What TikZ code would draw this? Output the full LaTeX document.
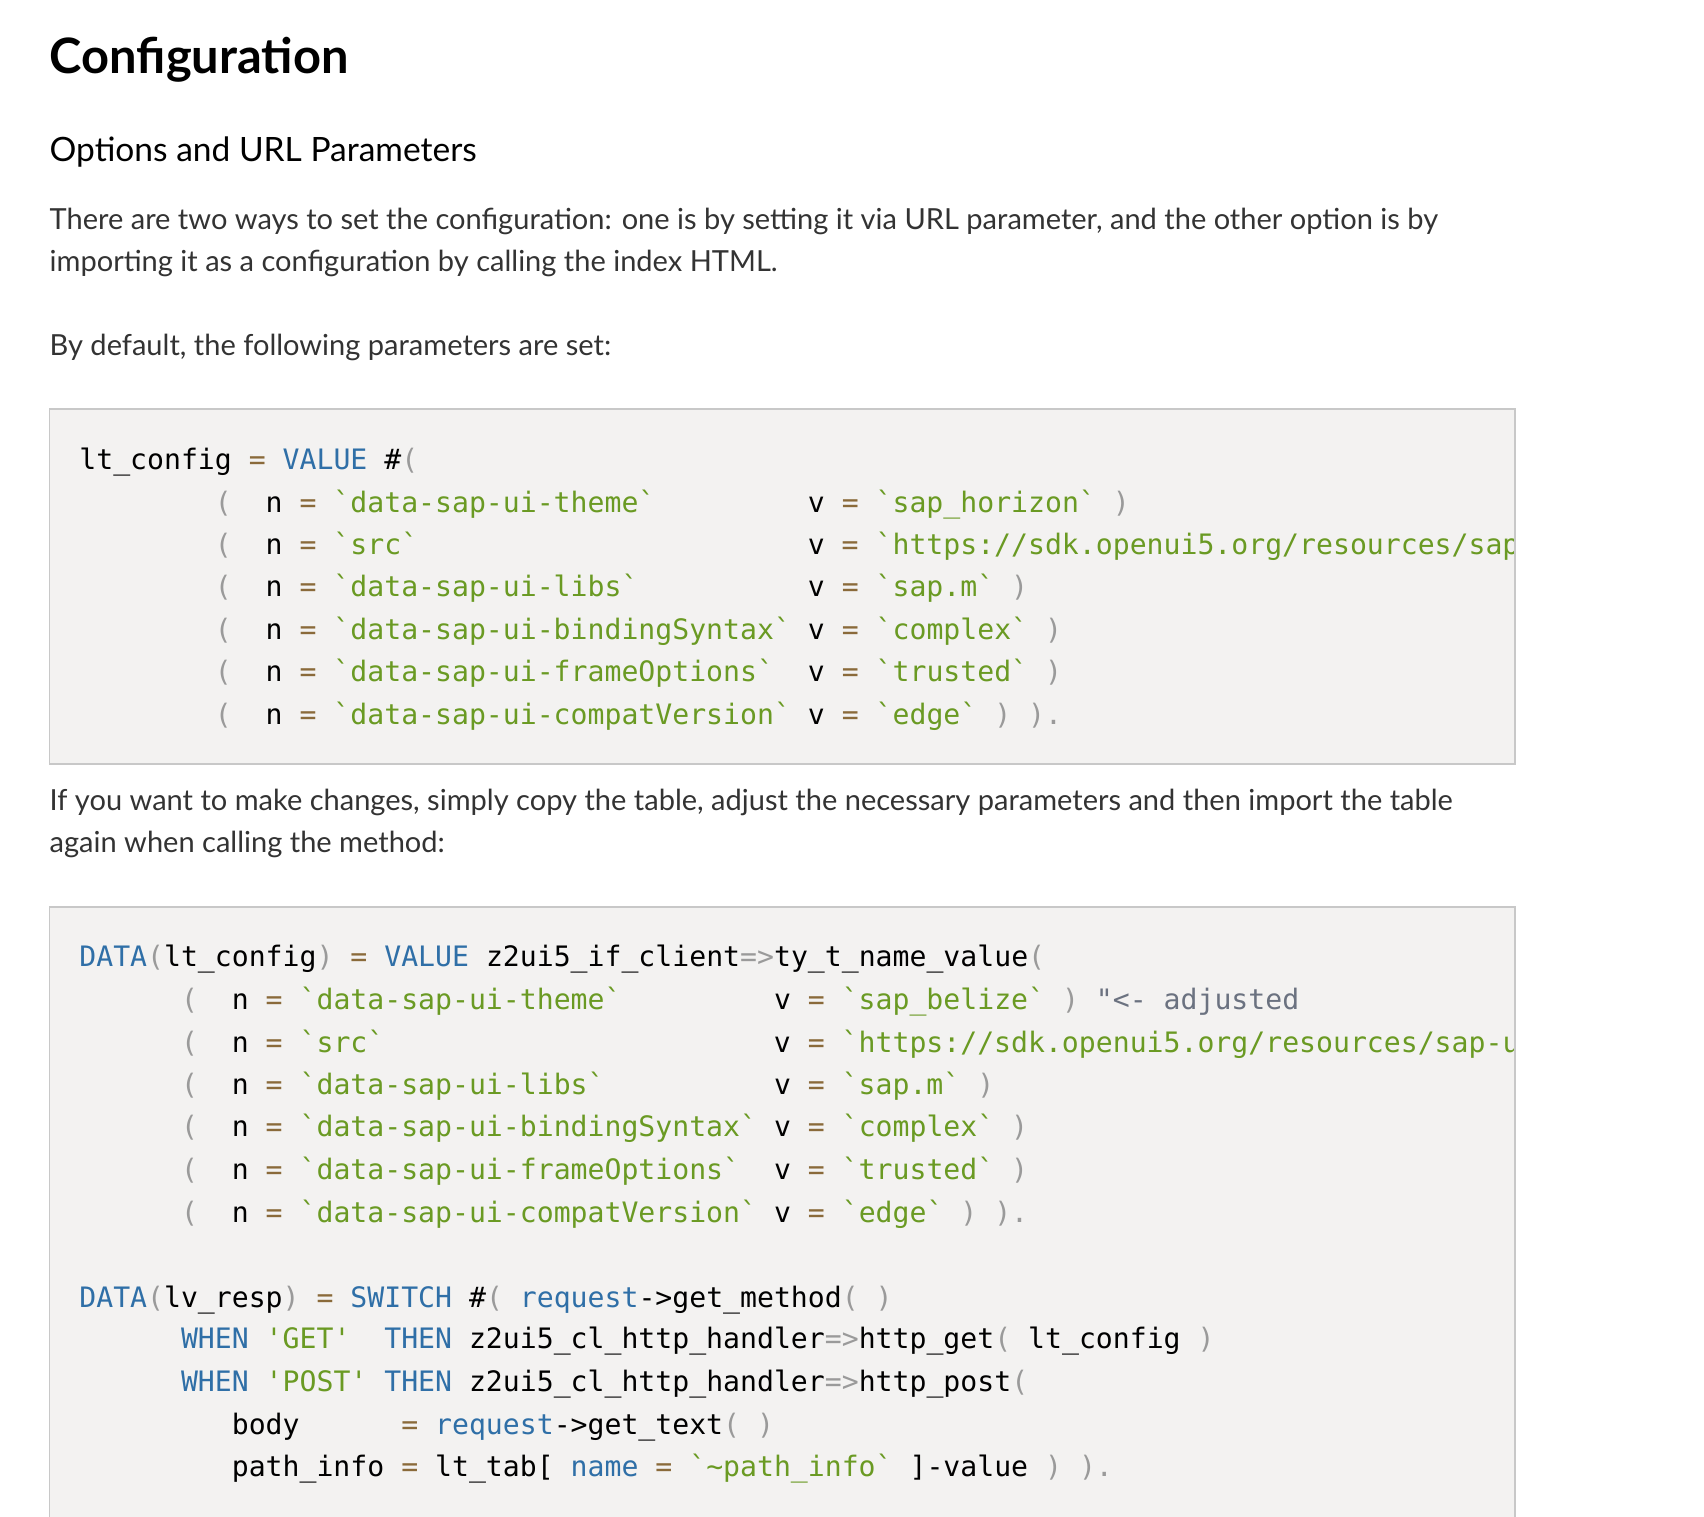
\documentclass[tikz,border=0pt]{standalone}
\usepackage{fontspec}
\setmainfont{Lato}
\newfontfamily\codefont{DejaVu Sans Mono}
\usepackage{xcolor}
\definecolor{kw}{HTML}{2F6FA7}
\definecolor{str}{HTML}{6A9A23}
\definecolor{op}{HTML}{8A6A3A}
\definecolor{par}{HTML}{9A9A9A}
\definecolor{cmt}{HTML}{6B7280}
\definecolor{body}{HTML}{333333}
\definecolor{boxbg}{HTML}{F3F2F1}
\definecolor{boxln}{HTML}{C8C8C8}
\newlength\cw
\setlength\cw{15.41pt}
\newcommand\pad[1]{\hspace*{#1\cw}}
\newcommand\cK[1]{\textcolor{kw}{#1}}
\newcommand\cS[1]{\textcolor{str}{#1}}
\newcommand\cO[1]{\textcolor{op}{#1}}
\newcommand\cP[1]{\textcolor{par}{#1}}
\newcommand\cC[1]{\textcolor{cmt}{#1}}
\newcommand\bt{\char`\`}
\begin{document}
\begin{tikzpicture}[x=1pt,y=-1pt,
  code/.style={anchor=base west,inner sep=0pt,font=\codefont\fontsize{25.6}{30}\selectfont,text=black},
  para/.style={anchor=base west,inner sep=0pt,font=\fontsize{26.4}{30}\selectfont,text=body},
  cbox/.style={fill=boxbg,draw=boxln,line width=1.5pt}]
\fill[white] (0,0) rectangle (1550,1379);
\useasboundingbox (0,0) rectangle (1550,1379);
\node[anchor=base west,inner sep=0pt,font=\bfseries\fontsize{44.4}{50}\selectfont] (title) at (45,67) {Configuration};
\node[anchor=base west,inner sep=0pt,font=\fontsize{30.5}{34}\selectfont] (sub) at (45,147) {Options and URL Parameters};
\node[para] (p1) at (45,209) {There are two ways to set the configuration: one is by setting it via URL parameter, and the other option is by};
\node[para] (p2) at (45,247) {importing it as a configuration by calling the index HTML.};
\node[para] (p3) at (45,323) {By default, the following parameters are set:};
\node[para] (p4) at (45,737) {If you want to make changes, simply copy the table, adjust the necessary parameters and then import the table};
\node[para] (p5) at (45,775) {again when calling the method:};
% box 1
\draw[cbox] (45,372) rectangle (1378,695);
\begin{scope}
\clip (46,373) rectangle (1377,694);
\node[code] (a0) at (72,427) {lt\_config\pad1\cO{=}\pad1\cK{VALUE}\pad1\#\cP{(}};
\node[code] (a1) at (72,466) {\pad8\cP{(}\pad2n\pad1\cO{=}\pad1\cS{\bt data-sap-ui-theme\bt}\pad9v\pad1\cO{=}\pad1\cS{\bt sap\_horizon\bt}\pad1\cP{)}};
\node[code] (a2) at (72,504) {\pad8\cP{(}\pad2n\pad1\cO{=}\pad1\cS{\bt src\bt}\pad{23}v\pad1\cO{=}\pad1\cS{\bt https://sdk.openui5.org/resources/sap-ui-core.js\bt}};
\node[code] (a3) at (72,543) {\pad8\cP{(}\pad2n\pad1\cO{=}\pad1\cS{\bt data-sap-ui-libs\bt}\pad{10}v\pad1\cO{=}\pad1\cS{\bt sap.m\bt}\pad1\cP{)}};
\node[code] (a4) at (72,582) {\pad8\cP{(}\pad2n\pad1\cO{=}\pad1\cS{\bt data-sap-ui-bindingSyntax\bt}\pad1v\pad1\cO{=}\pad1\cS{\bt complex\bt}\pad1\cP{)}};
\node[code] (a5) at (72,620) {\pad8\cP{(}\pad2n\pad1\cO{=}\pad1\cS{\bt data-sap-ui-frameOptions\bt}\pad2v\pad1\cO{=}\pad1\cS{\bt trusted\bt}\pad1\cP{)}};
\node[code] (a6) at (72,659) {\pad8\cP{(}\pad2n\pad1\cO{=}\pad1\cS{\bt data-sap-ui-compatVersion\bt}\pad1v\pad1\cO{=}\pad1\cS{\bt edge\bt}\pad1\cP{)}\pad1\cP{).}};
\end{scope}
% box 2
\draw[cbox] (45,825) rectangle (1378,1381);
\begin{scope}
\clip (46,826) rectangle (1377,1379);
\node[code] (b0) at (72,879) {\cK{DATA}\cP{(}lt\_config\cP{)}\pad1\cO{=}\pad1\cK{VALUE}\pad1z2ui5\_if\_client\cP{=>}ty\_t\_name\_value\cP{(}};
\node[code] (b1) at (72,918) {\pad6\cP{(}\pad2n\pad1\cO{=}\pad1\cS{\bt data-sap-ui-theme\bt}\pad9v\pad1\cO{=}\pad1\cS{\bt sap\_belize\bt}\pad1\cP{)}\pad1\cC{"<-\pad1adjusted}};
\node[code] (b2) at (72,957) {\pad6\cP{(}\pad2n\pad1\cO{=}\pad1\cS{\bt src\bt}\pad{23}v\pad1\cO{=}\pad1\cS{\bt https://sdk.openui5.org/resources/sap-ui-core.js\bt}};
\node[code] (b3) at (72,996) {\pad6\cP{(}\pad2n\pad1\cO{=}\pad1\cS{\bt data-sap-ui-libs\bt}\pad{10}v\pad1\cO{=}\pad1\cS{\bt sap.m\bt}\pad1\cP{)}};
\node[code] (b4) at (72,1034) {\pad6\cP{(}\pad2n\pad1\cO{=}\pad1\cS{\bt data-sap-ui-bindingSyntax\bt}\pad1v\pad1\cO{=}\pad1\cS{\bt complex\bt}\pad1\cP{)}};
\node[code] (b5) at (72,1073) {\pad6\cP{(}\pad2n\pad1\cO{=}\pad1\cS{\bt data-sap-ui-frameOptions\bt}\pad2v\pad1\cO{=}\pad1\cS{\bt trusted\bt}\pad1\cP{)}};
\node[code] (b6) at (72,1112) {\pad6\cP{(}\pad2n\pad1\cO{=}\pad1\cS{\bt data-sap-ui-compatVersion\bt}\pad1v\pad1\cO{=}\pad1\cS{\bt edge\bt}\pad1\cP{)}\pad1\cP{).}};
\node[code] (c0) at (72,1189) {\cK{DATA}\cP{(}lv\_resp\cP{)}\pad1\cO{=}\pad1\cK{SWITCH}\pad1\#\cP{(}\pad1\cK{request}->get\_method\cP{(}\pad1\cP{)}};
\node[code] (c1) at (72,1227) {\pad6\cK{WHEN}\pad1\cS{'GET'}\pad2\cK{THEN}\pad1z2ui5\_cl\_http\_handler\cP{=>}http\_get\cP{(}\pad1lt\_config\pad1\cP{)}};
\node[code] (c2) at (72,1266) {\pad6\cK{WHEN}\pad1\cS{'POST'}\pad1\cK{THEN}\pad1z2ui5\_cl\_http\_handler\cP{=>}http\_post\cP{(}};
\node[code] (c3) at (72,1305) {\pad9body\pad6\cO{=}\pad1\cK{request}->get\_text\cP{(}\pad1\cP{)}};
\node[code] (c4) at (72,1343) {\pad9path\_info\pad1\cO{=}\pad1lt\_tab[\pad1\cK{name}\pad1\cO{=}\pad1\cS{\bt\textasciitilde path\_info\bt}\pad1]-value\pad1\cP{)}\pad1\cP{).}};
\end{scope}
\end{tikzpicture}
\end{document}
